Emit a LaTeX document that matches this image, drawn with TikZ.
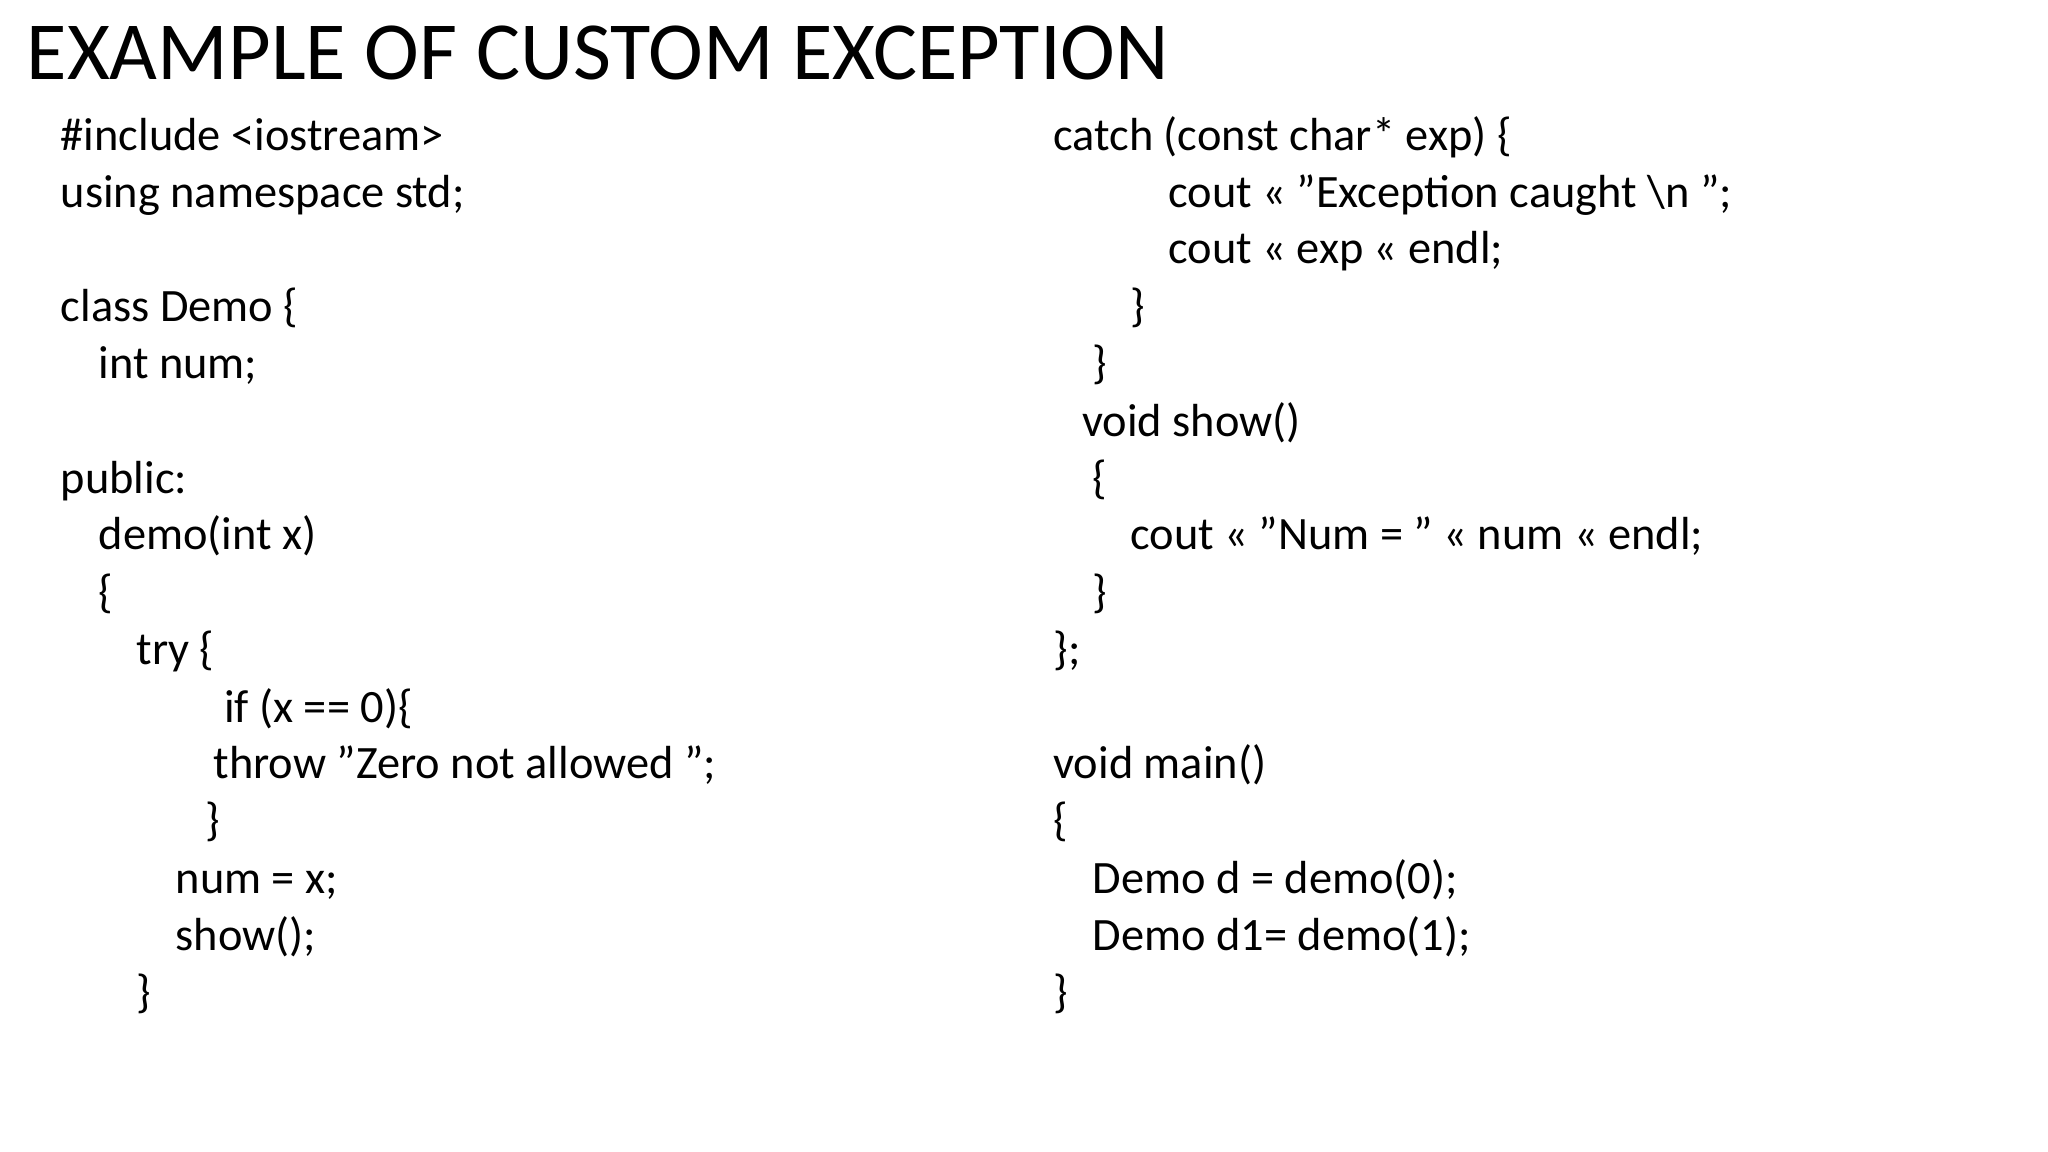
\documentclass[tikz,border=0pt]{standalone}
\usepackage{fontspec}
\setmainfont{Carlito}
\begin{document}
\begin{tikzpicture}[x=0.01306cm,y=-0.01306cm,
  code/.style={anchor=base west,inner sep=0pt,font=\fontsize{13.2pt}{15pt}\selectfont}]
\useasboundingbox (0,0) rectangle (1568,882);
\node[anchor=base west,inner sep=0pt,font=\fontsize{23.5pt}{28pt}\selectfont] (title) at (20,61) {EXAMPLE OF CUSTOM EXCEPTION};
% left column
\node[code] (l1) at (46,115) {\#include <iostream>};
\node[code] (l2) at (46,159) {using namespace std;};
\node[code] (l3) at (46,246) {class Demo \{};
\node[code] (l4) at (75,290) {int num;};
\node[code] (l5) at (46,378) {public:};
\node[code] (l6) at (75,421) {demo(int x)};
\node[code] (l7) at (75,465) {\{};
\node[code] (l8) at (104,509) {try \{};
\node[code] (l9) at (171,553) {if (x == 0)\{};
\node[code] (l10) at (163,596) {throw "Zero not allowed ";};
\node[code] (l11) at (157,640) {\}};
\node[code] (l12) at (134,684) {num = x;};
\node[code] (l13) at (134,728) {show();};
\node[code] (l14) at (104,771) {\}};
% right column
\node[code] (r1) at (806,115) {catch (const char* exp) \{};
\node[code] (r2) at (894,159) {cout << "Exception caught \textbackslash n ";};
\node[code] (r3) at (894,202) {cout << exp << endl;};
\node[code] (r4) at (865,246) {\}};
\node[code] (r5) at (836,290) {\}};
\node[code] (r6) at (828,334) {void show()};
\node[code] (r7) at (836,378) {\{};
\node[code] (r8) at (865,421) {cout << "Num = " << num << endl;};
\node[code] (r9) at (836,465) {\}};
\node[code] (r10) at (806,509) {\};};
\node[code] (r11) at (806,596) {void main()};
\node[code] (r12) at (806,640) {\{};
\node[code] (r13) at (836,684) {Demo d = demo(0);};
\node[code] (r14) at (836,728) {Demo d1= demo(1);};
\node[code] (r15) at (806,771) {\}};
\end{tikzpicture}
\end{document}
